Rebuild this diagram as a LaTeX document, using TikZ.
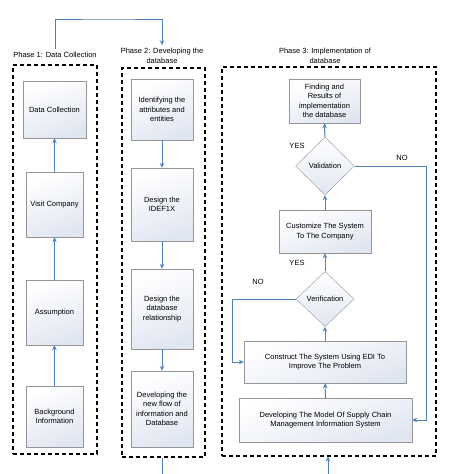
\documentclass[tikz,border=0pt]{standalone}
\usepackage{fontspec}
\setmainfont{Liberation Sans}
\usetikzlibrary{positioning, shapes.geometric, arrows.meta}

\definecolor{flowblue}{RGB}{79,129,189}
\definecolor{boxline}{RGB}{150,150,150}
\definecolor{boxshade}{RGB}{224,230,241}

\begin{document}
\begin{tikzpicture}[x=1pt, y=-1pt,
  % Node Styles
  stepbox/.style={rectangle, draw=boxline, top color=white, bottom color=boxshade, shading angle=20, text=black, inner sep=1pt, align=center, font=\fontsize{7.5}{9.5}\selectfont},
  decision/.style={diamond, draw=boxline, top color=white, bottom color=boxshade, text=black, inner sep=0pt, align=center, font=\fontsize{7.5}{9.5}\selectfont},
  phasebox/.style={rectangle, draw=black, dashed, dash pattern=on 4pt off 3pt, line width=1.1pt, inner sep=0pt},
  phaselabel/.style={align=center, inner sep=3pt, font=\fontsize{7.5}{9.5}\selectfont},
  answer/.style={inner sep=1pt, font=\fontsize{7.5}{9}\selectfont},
  % Arrow Styles
  flowarrow/.style={-{Stealth[length=5pt, width=4.5pt]}, line width=1pt, flowblue},
  flowline/.style={line width=1pt, flowblue}
]
\useasboundingbox (0,0) rectangle (474,474);

% Phase frames
\node[phasebox, minimum width=84pt, minimum height=389pt] (B1) at (55,259.5) {};
\node[phasebox, minimum width=83pt, minimum height=389pt] (B2) at (163.5,262.5) {};
\node[phasebox, minimum width=214pt, minimum height=389pt] (B3) at (329,261.5) {};

\node[phaselabel] (P1) at (55,55) {Phase 1: Data Collection};
\node[phaselabel] (P2) at (162,56) {Phase 2: Developing the\\database};
\node[phaselabel] (P3) at (325,56) {Phase 3: Implementation of\\database};

% Phase 1
\node[stepbox, minimum width=63pt, minimum height=57pt] (DC) at (54.5,109.5) {Data Collection};
\node[stepbox, minimum width=57pt, minimum height=65pt] (VC) at (54.5,204.5) {Visit Company};
\node[stepbox, minimum width=57pt, minimum height=65pt] (AS) at (54.5,312.5) {Assumption};
\node[stepbox, minimum width=57pt, minimum height=61pt] (BI) at (54.5,416.5) {Background\\Information};

% Phase 2
\node[stepbox, minimum width=62pt, minimum height=61pt] (ID) at (162,109.5) {Identifying the\\attributes and\\entities};
\node[stepbox, minimum width=62pt, minimum height=73pt] (DI) at (162,204.5) {Design the\\IDEF1X};
\node[stepbox, minimum width=62pt, minimum height=80pt] (DR) at (162,309) {Design the\\database\\relationship};
\node[stepbox, minimum width=62pt, minimum height=76pt] (DF) at (162,409) {Developing the\\new flow of\\information and\\Database};

% Phase 3
\node[stepbox, minimum width=71pt, minimum height=44pt] (FR) at (324.5,101) {Finding and\\Results of\\implementation\\the database};
\node[decision, minimum width=59pt, minimum height=58pt] (VA) at (325,166) {Validation};
\node[stepbox, minimum width=92pt, minimum height=43pt] (CU) at (325,231.5) {Customize The System\\To The Company};
\node[decision, minimum width=58pt, minimum height=55pt] (VE) at (325,299) {Verification};
\node[stepbox, minimum width=162pt, minimum height=42pt] (CS) at (325,362) {Construct The System Using EDI To\\Improve The Problem};
\node[stepbox, minimum width=173pt, minimum height=44pt] (DM) at (325.5,420) {Developing The Model Of Supply Chain\\Management Information System};

\node[answer] (YES1) at (297,146) {YES};
\node[answer] (NO1) at (402,158) {NO};
\node[answer] (YES2) at (297,263) {YES};
\node[answer] (NO2) at (258,282) {NO};

% Connectors
\coordinate (top) at (108,19);
\draw[flowarrow] (P1.north) |- (top) -| (P2.north);

\draw[flowarrow] (BI) -- (AS);
\draw[flowarrow] (AS) -- (VC);
\draw[flowarrow] (VC) -- (DC);

\draw[flowarrow] (ID) -- (DI);
\draw[flowarrow] (DI) -- (DR);
\draw[flowarrow] (DR) -- (DF);
\coordinate (out2) at (162,474);
\draw[flowline] (B2.south -| out2) -- (out2);

\draw[flowarrow] (DM) -- (CS);
\draw[flowarrow] (CS) -- (VE);
\draw[flowarrow] (VE) -- (CU);
\draw[flowarrow] (CU) -- (VA);
\draw[flowarrow] (VA) -- (FR);

\coordinate (noVA) at (426,166);
\draw[flowarrow] (VA.east) -- (noVA) |- (DM.east);
\coordinate (noVE) at (232,299);
\draw[flowarrow] (VE.west) -- (noVE) |- (CS.west);

\coordinate (in3) at (328,474);
\draw[flowarrow] (in3) -- (in3 |- B3.south);

\end{tikzpicture}
\end{document}
